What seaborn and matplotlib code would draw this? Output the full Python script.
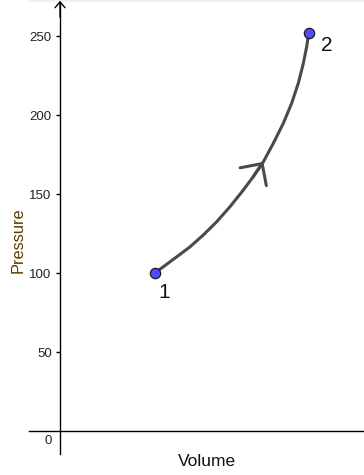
import matplotlib
matplotlib.use("Agg")
import matplotlib.pyplot as plt
import seaborn as sns
import pandas as pd

sns.set_theme(style="white")
plt.rcParams['font.family'] = ['Liberation Sans', 'DejaVu Sans']

# Curve (Volume in arbitrary units, Pressure)
volume = [60, 65.4, 73.9, 82.3, 90.7, 99.2, 107.6, 116.0, 122.3, 128.7,
          135.0, 141.3, 146.6, 150.8, 154.0, 156.1, 157.4]
pressure = [100, 104.0, 110.3, 116.6, 124.1, 132.5, 142.0, 152.5, 161.0, 170.4,
            182.1, 194.7, 207.4, 220.1, 232.7, 243.2, 251.7]
arrow_at = 9  # curve index where the direction arrow sits
state_labels = ["1", "2"]
state_volume = [volume[0], volume[-1]]
state_pressure = [pressure[0], pressure[-1]]
yticks = [50, 100, 150, 200, 250]

curve = pd.DataFrame({"Volume": volume, "Pressure": pressure})
states = pd.DataFrame({"Volume": state_volume, "Pressure": state_pressure, "label": state_labels})

fig = plt.figure(figsize=(3.64, 4.75), dpi=100)
ax = fig.add_axes([0, 0, 1, 1])

sns.lineplot(data=curve, x="Volume", y="Pressure", sort=False, color="#4a4a4a",
             linewidth=2.2, ax=ax, zorder=3, solid_joinstyle="round",
             solid_capstyle="round")

# direction arrow on the curve
ax.annotate("", xy=(volume[arrow_at], pressure[arrow_at]),
            xytext=(volume[arrow_at - 1], pressure[arrow_at - 1]),
            arrowprops=dict(arrowstyle="->,head_length=0.95,head_width=0.95",
                            color="#4a4a4a", lw=2.2, shrinkA=0, shrinkB=0),
            zorder=3)

sns.scatterplot(data=states, x="Volume", y="Pressure", s=55, color="#4d4dff",
                edgecolor="#1a1a1a", linewidth=0.9, ax=ax, zorder=5)

offsets = [(7, -14), (13, -9)]
for (lab, v, p), off in zip(states[["label", "Volume", "Pressure"]].values, offsets):
    ax.annotate(lab, xy=(v, p), xytext=off, textcoords="offset points",
                fontsize=15, color="#111111", ha="center", va="center")

# axes geometry (GeoGebra-like)
ax.set_xlim(-38.0, 192.4)
ax.set_ylim(-27.8, 272.8)
for s in ["top", "right"]:
    ax.spines[s].set_visible(False)
ax.spines["left"].set_position(("data", 0))
ax.spines["bottom"].set_position(("data", 0))
ax.spines["left"].set_bounds(-14.6, 271.0)
ax.spines["bottom"].set_bounds(-19.6, 192.4)
for s in ["left", "bottom"]:
    ax.spines[s].set_color("black")
    ax.spines[s].set_linewidth(1.0)

ax.set_yticks(yticks)
ax.set_yticklabels([str(t) for t in yticks])
ax.set_xticks([])
ax.tick_params(axis="y", direction="out", length=3, width=1, pad=3,
               labelsize=9.5, colors="black", labelcolor="#222222", left=True)
ax.text(-7.5, -6.5, "0", fontsize=9.5, color="#222222", ha="center", va="center")

# y-axis arrow head
ax.annotate("", xy=(0, 272.3), xytext=(0, 262),
            arrowprops=dict(arrowstyle="->,head_length=0.35,head_width=0.3",
                            color="black", lw=1.0, shrinkA=0, shrinkB=0))

ax.set_xlabel("Volume", fontsize=12.5, color="#111111")
ax.set_ylabel("Pressure", fontsize=11.8, color="#5c3a00")
ax.xaxis.set_label_coords(207 / 364, 1 - 462 / 475)
ax.yaxis.set_label_coords(18 / 364, 1 - 240 / 475)
ax.xaxis.label.set_va("center")
ax.yaxis.label.set_va("center")

# faint top border band
ax.axhspan(271.6, 272.8, xmin=29 / 364, xmax=1, color="#f0f0f0", zorder=0, lw=0)

fig.savefig("out.png", dpi=100)
